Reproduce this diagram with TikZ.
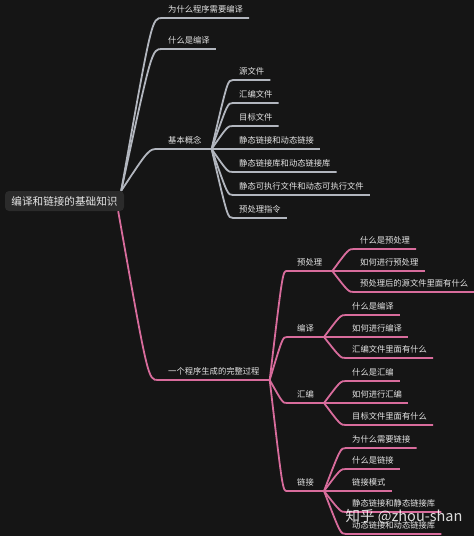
\documentclass[tikz,border=0pt]{standalone}
\usepackage{fontspec}
\setmainfont{Noto Sans CJK SC}
\usetikzlibrary{calc}

\definecolor{bgdark}{HTML}{151515}
\definecolor{rootfill}{HTML}{2B2B2B}
\definecolor{txtlight}{HTML}{E6E6E6}
\definecolor{greyline}{HTML}{B2B6BE}
\definecolor{pinkline}{HTML}{D86C9C}

% curved branch from a hub point to the underline of a topic
\newcommand{\Branch}[3]{%
  \draw[#1] (#2) .. controls ($(#2 |- #3.south west)!0.75!(#3.south west)$) .. (#3.south west) -- (#3.south east);}

\begin{document}
\begin{tikzpicture}[x=1pt, y=-1pt,
  topic/.style={anchor=south west, inner xsep=6pt, inner ysep=0pt,
    text height=7pt, text depth=5.5pt, text=txtlight,
    font=\fontsize{8.3}{10}\selectfont},
  hubtopic/.style={topic, inner xsep=10pt},
  rootbox/.style={fill=rootfill, rounded corners=4pt, text=txtlight,
    minimum width=119pt, minimum height=20pt, inner sep=0pt,
    font=\fontsize{10.6}{12}\selectfont},
  greyedge/.style={draw=greyline, line width=1.8pt},
  pinkedge/.style={draw=pinkline, line width=1.8pt}]

\fill[bgdark] (0,0) rectangle (474,536);
\useasboundingbox (0,0) rectangle (474,536);

% root
\node[rootbox] (root) at (64.5,201) {编译和链接的基础知识};
\coordinate (rootup) at ([xshift=-3pt]root.north east);
\coordinate (rootdown) at ([xshift=-6pt]root.south east);

% upper part
\node[topic] (why) at (162,18) {为什么程序需要编译};
\node[topic] (whatcomp) at (162,49) {什么是编译};
\node[hubtopic] (basic) at (158,149) {基本概念};
\Branch{greyedge}{rootup}{why}
\Branch{greyedge}{rootup}{whatcomp}
\Branch{greyedge}{rootup}{basic}

\node[topic] (srcfile) at (233,80) {源文件};
\node[topic] (asmfile) at (233,103) {汇编文件};
\node[topic] (objfile) at (233,126) {目标文件};
\node[topic] (linkkind) at (233,149) {静态链接和动态链接};
\node[topic] (libkind) at (233,172) {静态链接库和动态链接库};
\node[topic] (exekind) at (233,195) {静态可执行文件和动态可执行文件};
\node[topic] (ppdir) at (233,218) {预处理指令};
\Branch{greyedge}{basic.south east}{srcfile}
\Branch{greyedge}{basic.south east}{asmfile}
\Branch{greyedge}{basic.south east}{objfile}
\Branch{greyedge}{basic.south east}{linkkind}
\Branch{greyedge}{basic.south east}{libkind}
\Branch{greyedge}{basic.south east}{exekind}
\Branch{greyedge}{basic.south east}{ppdir}

% lower part
\node[hubtopic] (process) at (158,380) {一个程序生成的完整过程};
\Branch{pinkedge}{rootdown}{process}

\node[hubtopic] (prep) at (287,271) {预处理};
\node[hubtopic] (comp) at (287,337) {编译};
\node[hubtopic] (asm) at (287,403) {汇编};
\node[hubtopic] (link) at (287,491) {链接};
\Branch{pinkedge}{process.south east}{prep}
\Branch{pinkedge}{process.south east}{comp}
\Branch{pinkedge}{process.south east}{asm}
\Branch{pinkedge}{process.south east}{link}

% preprocessing
\node[topic] (prepwhat) at (354,249) {什么是预处理};
\node[topic] (prephow) at (354,271) {如何进行预处理};
\node[topic] (prepout) at (354,292) {预处理后的源文件里面有什么};
\Branch{pinkedge}{prep.south east}{prepwhat}
\Branch{pinkedge}{prep.south east}{prephow}
\Branch{pinkedge}{prep.south east}{prepout}

% compiling
\node[topic] (compwhat) at (346,315) {什么是编译};
\node[topic] (comphow) at (346,337) {如何进行编译};
\node[topic] (compout) at (346,358) {汇编文件里面有什么};
\Branch{pinkedge}{comp.south east}{compwhat}
\Branch{pinkedge}{comp.south east}{comphow}
\Branch{pinkedge}{comp.south east}{compout}

% assembling
\node[topic] (asmwhat) at (346,381) {什么是汇编};
\node[topic] (asmhow) at (346,403) {如何进行汇编};
\node[topic] (asmout) at (346,425) {目标文件里面有什么};
\Branch{pinkedge}{asm.south east}{asmwhat}
\Branch{pinkedge}{asm.south east}{asmhow}
\Branch{pinkedge}{asm.south east}{asmout}

% linking
\node[topic] (linkwhy) at (346,448) {为什么需要链接};
\node[topic] (linkwhat) at (346,469) {什么是链接};
\node[topic] (linkmode) at (346,491) {链接模式};
\node[topic] (linkstatic) at (346,512) {静态链接和静态链接库};
\node[topic] (linkdyn) at (346,534) {动态链接和动态链接库};
\Branch{pinkedge}{link.south east}{linkwhy}
\Branch{pinkedge}{link.south east}{linkwhat}
\Branch{pinkedge}{link.south east}{linkmode}
\Branch{pinkedge}{link.south east}{linkstatic}
\Branch{pinkedge}{link.south east}{linkdyn}

% watermark
\node[text=white, opacity=0.85, font=\fontsize{14.5}{16}\selectfont] (wmark) at (404,517) {知乎 @zhou-shan};
\end{tikzpicture}
\end{document}
